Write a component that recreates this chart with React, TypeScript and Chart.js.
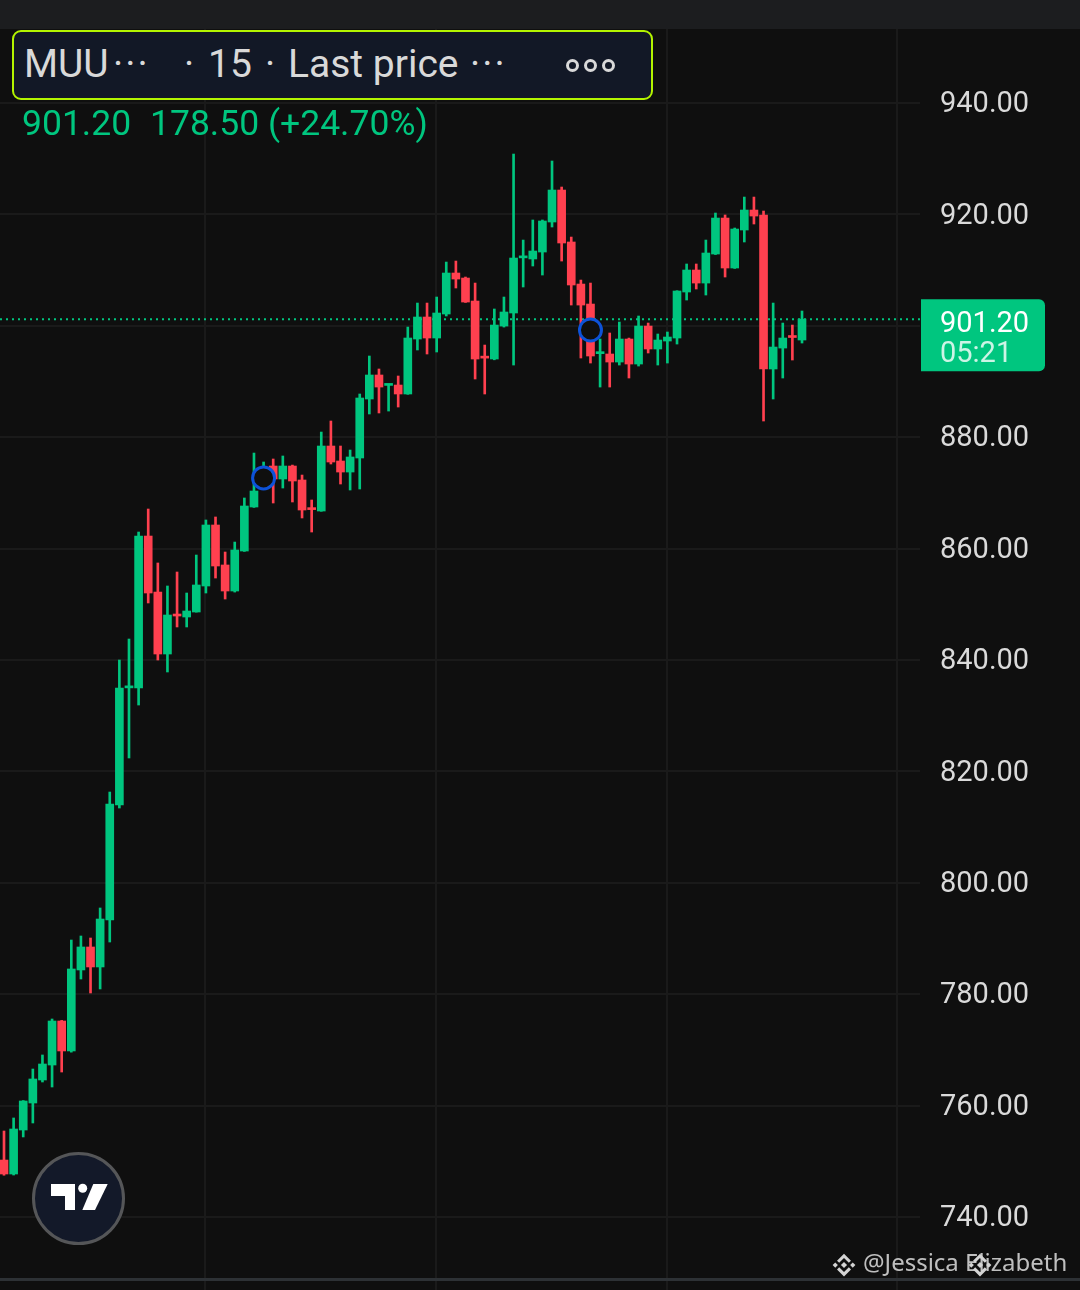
import React, { useEffect, useRef } from "react";
import { Chart, registerables } from "chart.js";

Chart.register(...registerables);

// ---- data (15-minute candles) ----
const OPEN = [
  750.23, 747.72, 755.62, 760.47, 764.6, 767.29, 775.19, 769.81, 784.35, 788.48,
  784.89, 793.32, 813.97, 835.0, 834.97, 862.26, 852.2, 841.08, 848.1, 847.72,
  848.62, 853.29, 864.24, 857.06, 852.39, 859.57, 867.47, 872.32, 874.83, 872.5,
  874.83, 872.32, 867.2, 866.75, 878.42, 875.73, 873.75, 876.27, 886.86, 891.17,
  889.3, 889.37, 887.76, 897.63, 901.58, 897.81, 902.12, 909.48, 908.58, 904.45,
  894.3, 894.04, 899.96, 902.3, 912.2, 912.0, 913.25, 918.64, 924.38, 915.05,
  907.5, 903.91, 895.0, 894.94, 893.5, 897.63, 893.14, 899.96, 895.84, 897.27,
  897.81, 906.07, 910.02, 907.68, 912.89, 919.35, 910.38, 917.2, 920.79, 919.89,
  892.25, 896.01, 898.1, 897.45,
];
const HIGH = [
  755.44, 757.78, 760.9, 766.57, 769.09, 775.55, 775.3, 789.73, 790.45, 790.09,
  795.48, 816.3, 840.0, 843.77, 862.98, 867.11, 857.42, 853.29, 855.8, 852.03,
  858.85, 865.14, 865.68, 859.39, 861.18, 869.09, 877.16, 875.55, 876.09, 876.63,
  875.0, 873.21, 868.73, 880.93, 882.91, 878.42, 877.7, 887.76, 894.58, 892.25,
  889.45, 890.99, 899.78, 904.09, 904.09, 905.17, 911.45, 911.63, 908.76, 907.68,
  896.55, 903.02, 905.17, 930.84, 915.4, 919.0, 919.0, 929.59, 924.92, 915.94,
  908.22, 907.68, 897.63, 898.71, 900.68, 897.8, 901.76, 900.5, 898.53, 898.89,
  906.3, 911.1, 911.1, 915.4, 920.25, 919.9, 917.56, 923.12, 923.12, 920.61,
  904.09, 900.5, 900.14, 902.66,
];
const LOW = [
  747.5, 747.54, 754.37, 756.88, 764.24, 763.34, 766.03, 769.6, 782.73, 780.22,
  780.94, 789.37, 813.43, 822.41, 831.92, 850.24, 840.0, 837.85, 845.93, 845.93,
  848.6, 852.03, 854.72, 850.95, 852.2, 859.5, 867.4, 871.2, 868.19, 870.88,
  868.37, 865.5, 862.98, 866.7, 875.19, 871.6, 870.52, 870.7, 884.17, 884.35,
  884.7, 885.42, 887.7, 895.66, 894.94, 895.3, 901.76, 906.79, 904.2, 890.45,
  887.76, 893.9, 899.78, 892.96, 906.97, 910.74, 909.12, 917.74, 911.63, 903.73,
  894.22, 893.32, 889.01, 889.01, 892.96, 890.63, 892.78, 895.12, 892.96, 893.32,
  896.73, 904.63, 906.61, 905.53, 912.8, 908.76, 910.3, 915.05, 918.28, 882.91,
  886.86, 890.63, 893.86, 896.91,
];
const CLOSE = [
  747.72, 755.8, 760.83, 764.78, 767.47, 775.19, 769.81, 784.53, 788.48, 784.89,
  793.5, 814.15, 834.97, 835.3, 862.26, 852.03, 841.08, 848.08, 847.9, 848.8,
  853.47, 864.24, 856.88, 852.39, 859.75, 867.65, 870.34, 874.47, 872.5, 874.83,
  872.14, 866.93, 867.0, 878.42, 875.55, 873.75, 876.45, 887.04, 891.17, 889.01,
  889.4, 887.76, 897.81, 901.58, 897.81, 902.3, 909.48, 908.4, 904.27, 894.04,
  894.2, 900.14, 902.48, 912.17, 912.3, 913.43, 918.82, 924.38, 914.87, 907.33,
  903.73, 894.58, 895.2, 893.5, 897.63, 893.14, 899.96, 895.84, 897.45, 897.99,
  906.25, 910.02, 907.68, 913.07, 919.35, 910.38, 917.38, 920.79, 919.71, 892.25,
  896.19, 897.81, 897.9, 901.2,
];
const Y_TICKS = [740, 760, 780, 800, 820, 840, 860, 880, 900, 920, 940];
const TIME_GRID = [20.93, 44.93, 68.93, 92.93];
const MARKERS = [
  { x: 27, y: 872.7 },
  { x: 61, y: 899.25 },
];
const LAST_PRICE = CLOSE[CLOSE.length - 1];
const COUNTDOWN = "05:21";
const SYMBOL = "MUU";
const INTERVAL = "15";
const PRICE_SOURCE = "Last price";
const CHANGE_TEXT = "178.50 (+24.70%)";

// ---- styles ----
const GREEN = "#00C67F";
const RED = "#FF404F";
const BG = "#0f0f0f";
const GRID = "#1a1a1a";
const AXIS_TEXT = "#dadada";
const X_MIN = -0.416;
const X_MAX = 95.273;
const Y_MIN = 729.05;
const Y_MAX = 953.29;

const colors = CLOSE.map((c, i) => (c >= OPEN[i] ? GREEN : RED));

const zeroPadding = (axis: any) => {
  axis.paddingLeft = 0;
  axis.paddingRight = 0;
  axis.paddingTop = 0;
  axis.paddingBottom = 0;
};

const overlayPlugin = {
  id: "overlay",
  afterDraw(chart: any) {
    const { ctx, chartArea, scales } = chart;
    const ys = scales.y;
    ctx.save();
    ctx.font = '29px Roboto';
    ctx.fillStyle = AXIS_TEXT;
    ctx.textAlign = "left";
    ctx.textBaseline = "middle";
    Y_TICKS.forEach((v) => {
      ctx.fillText(v.toFixed(2), chartArea.right + 20, ys.getPixelForValue(v) + 2);
    });
    ctx.fillStyle = "#2d3135";
    ctx.fillRect(0, chartArea.bottom, chart.width, 3);
    const py = ys.getPixelForValue(LAST_PRICE);
    ctx.fillStyle = GREEN;
    ctx.beginPath();
    (ctx as any).roundRect(chartArea.right + 1, py - 20, 124, 72, [0, 6, 6, 0]);
    ctx.fill();
    ctx.textBaseline = "alphabetic";
    ctx.fillStyle = "#ffffff";
    ctx.fillText(LAST_PRICE.toFixed(2), chartArea.right + 20, py + 13);
    ctx.fillStyle = "rgba(255,255,255,0.8)";
    ctx.fillText(COUNTDOWN, chartArea.right + 20, py + 43);
    ctx.restore();
  },
};

function BinanceIcon({ left, top }: { left: number; top: number }) {
  return (
    <svg
      width={28}
      height={28}
      viewBox="0 0 32 32"
      style={{ position: "absolute", left, top }}
    >
      <g fill="#d4d4d4">
        <polygon points="16,12.5 19.5,16 16,19.5 12.5,16" />
        <polygon points="6,13 9,16 6,19 3,16" />
        <polygon points="26,13 29,16 26,19 23,16" />
        <polygon points="16,3 24,11 21.5,13.5 16,8 10.5,13.5 8,11" />
        <polygon points="16,29 24,21 21.5,18.5 16,24 10.5,18.5 8,21" />
      </g>
    </svg>
  );
}

export default function App() {
  const ref = useRef<HTMLCanvasElement>(null);

  useEffect(() => {
    let chart: Chart | null = null;
    let cancelled = false;
    const make = () => {
      if (cancelled || !ref.current) return;
      chart = new Chart(ref.current, {
        type: "bar",
        data: {
          datasets: [
            {
              type: "line",
              data: [
                { x: X_MIN, y: LAST_PRICE },
                { x: X_MAX, y: LAST_PRICE },
              ],
              borderColor: GREEN,
              borderWidth: 2,
              borderDash: [2, 4],
              pointRadius: 0,
              order: 3,
            } as any,
            {
              type: "bar",
              data: LOW.map((l, i) => ({ x: i, y: [l, HIGH[i]] })),
              backgroundColor: colors,
              barThickness: 2,
              grouped: false,
              borderWidth: 0,
              order: 2,
            } as any,
            {
              type: "bar",
              data: OPEN.map((o, i) => ({ x: i, y: [o, CLOSE[i]] })),
              backgroundColor: colors,
              barThickness: 8,
              minBarLength: 2,
              grouped: false,
              borderWidth: 0,
              order: 1,
            } as any,
            {
              type: "scatter",
              data: MARKERS,
              pointRadius: 11,
              pointBorderWidth: 3,
              pointBorderColor: "#0D52D9",
              pointBackgroundColor: BG,
              order: 0,
            } as any,
          ],
        },
        options: {
          animation: false,
          responsive: false,
          events: [],
          layout: { padding: 0, autoPadding: false },
          plugins: {
            legend: { display: false },
            tooltip: { enabled: false },
          },
          scales: {
            x: {
              type: "linear",
              min: X_MIN,
              max: X_MAX,
              offset: false,
              position: "bottom",
              afterBuildTicks: (axis: any) => {
                axis.ticks = TIME_GRID.map((v) => ({ value: v }));
              },
              afterFit: (axis: any) => {
                axis.height = 12;
                zeroPadding(axis);
              },
              ticks: { display: false },
              grid: {
                color: GRID,
                lineWidth: 2,
                drawTicks: true,
                tickLength: 12,
                tickColor: GRID,
                offset: false,
              },
              border: { display: false },
            },
            y: {
              type: "linear",
              position: "right",
              min: Y_MIN,
              max: Y_MAX,
              afterBuildTicks: (axis: any) => {
                axis.ticks = Y_TICKS.map((v) => ({ value: v }));
              },
              afterFit: (axis: any) => {
                axis.width = 160;
                zeroPadding(axis);
              },
              ticks: { display: false },
              grid: { color: GRID, lineWidth: 2, drawTicks: false },
              border: { display: false },
            },
          },
        } as any,
        plugins: [overlayPlugin],
      });
    };
    const fonts: any = (document as any).fonts;
    if (fonts && fonts.load) {
      Promise.all([fonts.load("29px Roboto")]).then(make, make);
    } else {
      make();
    }
    return () => {
      cancelled = true;
      if (chart) chart.destroy();
    };
  }, []);

  const line1: React.CSSProperties = {
    position: "absolute",
    top: 45,
    fontFamily: "Roboto",
    fontSize: 39,
    lineHeight: 1,
    color: "#d9d9d9",
    whiteSpace: "pre",
  };
  const line2: React.CSSProperties = {
    position: "absolute",
    top: 106,
    fontFamily: "Roboto",
    fontSize: 35.5,
    lineHeight: 1,
    color: GREEN,
    whiteSpace: "pre",
  };
  const ring = (left: number): React.CSSProperties => ({
    position: "absolute",
    left,
    top: 59,
    width: 13,
    height: 13,
    boxSizing: "border-box",
    border: "3px solid #d9d9d9",
    borderRadius: "50%",
  });

  return (
    <div
      style={{
        position: "absolute",
        left: 0,
        top: 0,
        width: 1080,
        height: 1290,
        background: BG,
        overflow: "hidden",
      }}
    >
      <div
        style={{
          position: "absolute",
          left: 0,
          top: 0,
          width: 1080,
          height: 29,
          background: "#1c1d1f",
        }}
      />
      <canvas
        ref={ref}
        width={1080}
        height={1261}
        style={{ position: "absolute", left: 0, top: 29, width: 1080, height: 1261 }}
      />
      <div
        style={{
          position: "absolute",
          left: 12,
          top: 30,
          width: 641,
          height: 70,
          boxSizing: "border-box",
          border: "2.5px solid #b3f400",
          borderRadius: 9,
          background: "#121826",
        }}
      />
      <div style={{ ...line1, left: 24 }}>{SYMBOL}</div>
      <div style={{ ...line1, left: 113, letterSpacing: 2 }}>···</div>
      <div style={{ ...line1, left: 184 }}>·</div>
      <div style={{ ...line1, left: 208 }}>{INTERVAL}</div>
      <div style={{ ...line1, left: 265 }}>·</div>
      <div style={{ ...line1, left: 288 }}>{PRICE_SOURCE}</div>
      <div style={{ ...line1, left: 470, letterSpacing: 2 }}>···</div>
      <div style={ring(566)} />
      <div style={ring(584)} />
      <div style={ring(602)} />
      <div style={{ ...line2, left: 22 }}>{LAST_PRICE.toFixed(2)}</div>
      <div style={{ ...line2, left: 150 }}>{CHANGE_TEXT}</div>

      <div
        style={{
          position: "absolute",
          left: 32,
          top: 1152,
          width: 93,
          height: 93,
          boxSizing: "border-box",
          borderRadius: "50%",
          border: "3px solid #555658",
          background: "#131929",
        }}
      />
      <svg
        width={93}
        height={93}
        viewBox="0 0 93 93"
        style={{ position: "absolute", left: 32, top: 1152 }}
      >
        <g fill="#ffffff">
          <rect x={19} y={32} width={24} height={12} />
          <rect x={33} y={32} width={10} height={26} />
          <circle cx={50.7} cy={36.3} r={4.5} />
          <polygon points="61.3,32 75.7,32 63,58 50.3,58" />
        </g>
      </svg>

      <BinanceIcon left={830} top={1251} />
      <div
        style={{
          position: "absolute",
          left: 863,
          top: 1246,
          fontFamily: "'Noto Sans'",
          fontSize: 24,
          lineHeight: "32px",
          color: "rgba(222,222,222,0.85)",
          whiteSpace: "pre",
        }}
      >
        @Jessica Elizabeth
      </div>
      <BinanceIcon left={966} top={1251} />
    </div>
  );
}
